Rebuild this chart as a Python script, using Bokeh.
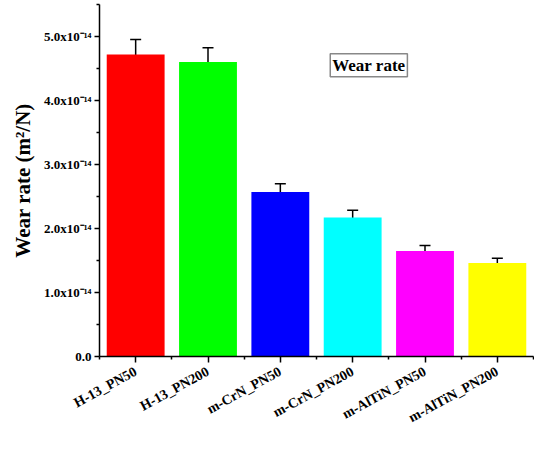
from bokeh.plotting import figure
from bokeh.models import ColumnDataSource, Range1d, FixedTicker, Whisker, TeeHead, Label
from bokeh.embed import file_html
from bokeh.resources import INLINE

# Data (wear rate in units of 1e-14 m^2/N)
categories = ["H-13_PN50", "H-13_PN200", "m-CrN_PN50", "m-CrN_PN200", "m-AlTiN_PN50", "m-AlTiN_PN200"]
wear_rate = [4.72, 4.60, 2.57, 2.17, 1.65, 1.46]
wear_err = [0.235, 0.225, 0.13, 0.115, 0.085, 0.075]
colors = ["#FF0000", "#00FF00", "#0000FF", "#00FFFF", "#FF00FF", "#FFFF00"]
y_ticks = [0, 1, 2, 3, 4, 5]
y_tick_labels = ["0.0", "1.0x10\u207b\u00b9\u2074", "2.0x10\u207b\u00b9\u2074", "3.0x10\u207b\u00b9\u2074",
                 "4.0x10\u207b\u00b9\u2074", "5.0x10\u207b\u00b9\u2074"]

idx = list(range(len(categories)))
src = ColumnDataSource(dict(
    x=idx, top=wear_rate, color=colors,
    upper=[v + e for v, e in zip(wear_rate, wear_err)],
    lower=[v - e for v, e in zip(wear_rate, wear_err)],
))

FONT = "Liberation Serif"

p = figure(width=534, height=434, output_backend="svg", toolbar_location=None,
           x_range=Range1d(-0.5, len(categories) - 0.5), y_range=Range1d(0, 5.5),
           min_border_left=99, min_border_right=1, min_border_top=4, min_border_bottom=72)
p.outline_line_color = None
p.xgrid.visible = False
p.ygrid.visible = False

p.vbar(x="x", top="top", width=0.8, fill_color="color", line_color=None, source=src)
p.add_layout(Whisker(source=src, base="x", upper="upper", lower="lower",
                     line_color="black", line_width=1.5,
                     upper_head=TeeHead(size=11, line_color="black", line_width=1.5),
                     lower_head=TeeHead(size=11, line_color="black", line_width=1.5)))

# x axis
p.xaxis.ticker = FixedTicker(ticks=idx, minor_ticks=[i - 0.5 for i in range(len(categories) + 1)])
p.xaxis.major_label_overrides = {i: c for i, c in zip(idx, categories)}
p.xaxis.major_label_orientation = 0.5
p.xaxis.major_label_text_font = FONT
p.xaxis.major_label_text_font_style = "bold"
p.xaxis.major_label_text_font_size = "14px"
p.xaxis.major_label_text_color = "black"
p.xaxis.major_tick_out = 6
p.xaxis.major_tick_in = 0
p.xaxis.minor_tick_out = 3
p.xaxis.minor_tick_in = 0
p.xaxis.major_label_standoff = 8

# y axis
p.yaxis.ticker = FixedTicker(ticks=y_ticks, minor_ticks=[t + 0.5 for t in y_ticks])
p.yaxis.major_label_overrides = {t: l for t, l in zip(y_ticks, y_tick_labels)}
p.yaxis.major_label_text_font = FONT
p.yaxis.major_label_text_font_style = "bold"
p.yaxis.major_label_text_font_size = "13px"
p.yaxis.major_label_text_color = "black"
p.yaxis.major_tick_out = 5
p.yaxis.major_tick_in = 0
p.yaxis.minor_tick_out = 3
p.yaxis.minor_tick_in = 0
p.yaxis.major_label_standoff = 3
p.yaxis.axis_label = "Wear rate (m\u00b2/N)"
p.yaxis.axis_label_text_font = FONT
p.yaxis.axis_label_text_font_style = "bold"
p.yaxis.axis_label_text_font_size = "21px"
p.yaxis.axis_label_text_color = "black"
p.yaxis.axis_label_standoff = 6

for ax in (p.xaxis, p.yaxis):
    ax.axis_line_width = 1.5
    ax.major_tick_line_width = 1.5
    ax.minor_tick_line_width = 1.5

p.add_layout(Label(x=2.69, y=4.37, x_units="data", y_units="data", text="Wear rate",
                   text_font=FONT, text_font_style="bold", text_font_size="17px", text_color="black",
                   border_line_color="#888888", border_line_width=1.5,
                   background_fill_color="white", padding=2))

open("out.html", "w").write(file_html(p, INLINE))
